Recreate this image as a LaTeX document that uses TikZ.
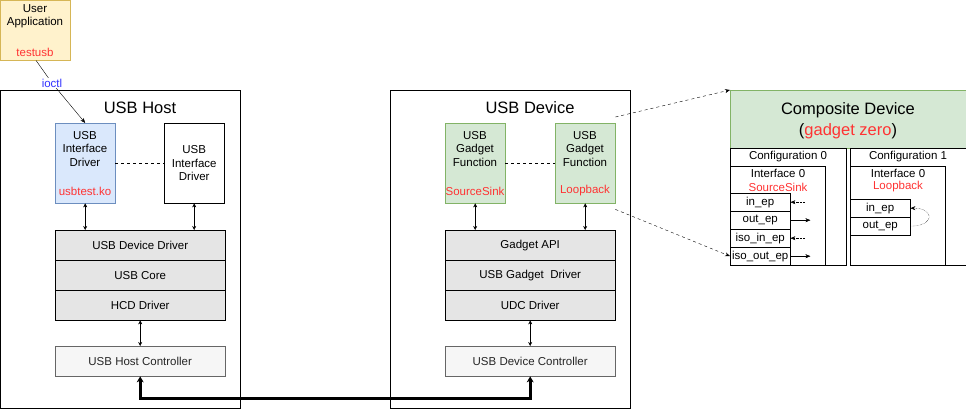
\documentclass[tikz,border=0pt]{standalone}
\usepackage{fontspec}
\setmainfont{Liberation Sans}
\usetikzlibrary{arrows.meta}
\definecolor{rd}{HTML}{FF3333}
\definecolor{bl}{HTML}{3333FF}
\definecolor{yf}{HTML}{FFF2CC}\definecolor{yd}{HTML}{D6B656}
\definecolor{bf}{HTML}{DAE8FC}\definecolor{bd}{HTML}{6C8EBF}
\definecolor{gf}{HTML}{D5E8D4}\definecolor{gd}{HTML}{82B366}
\begin{document}
\begin{tikzpicture}[x=1pt,y=-1pt,
  t/.style={font=\fontsize{11.5}{13.5}\selectfont,align=center},
  big/.style={font=\fontsize{16.5}{19}\selectfont},
  bx/.style={draw,anchor=north west,inner sep=0},
  stk/.style={bx,fill=gray!20,minimum width=170,minimum height=30,t},
  ctl/.style={bx,fill=gray!7,draw=gray!80!black,minimum width=170,minimum height=30,t,text=gray!30!black},
  dar/.style={{Stealth[length=4pt,width=4pt]}-{Stealth[length=4pt,width=4pt]}},
  ar/.style={-{Stealth[length=5pt,width=4pt]}},
  ep/.style={bx,minimum width=60,minimum height=18,t}]
\useasboundingbox (0,0) rectangle (966,412);
% user app
\node[bx,fill=yf,draw=yd,minimum width=70,minimum height=60] (ua) at (0,0) {};
\node[t] at (35,16) {User\\Application};
\node[t,text=rd] at (35,52) {testusb};
% host
\node[bx,minimum width=240,minimum height=318] (host) at (0,90) {};
\node[big] at (140,108) {USB Host};
\node[bx,fill=bf,draw=bd,minimum width=60,minimum height=80] (hid) at (55,123) {};
\node[t] at (85,149) {USB\\Interface\\Driver};
\node[t,text=rd] at (85,191) {usbtest.ko};
\node[bx,minimum width=60,minimum height=80,t] (hid2) at (164,123) {USB\\Interface\\Driver};
\draw[dashed] (hid.east) -- (hid2.west);
\node[stk] (h1) at (55,230) {USB Device Driver};
\node[stk] (h2) at (55,260) {USB Core};
\node[stk] (h3) at (55,290) {HCD Driver};
\node[ctl] (hc) at (55,346) {USB Host Controller};
\draw[dar] (hid.south) -- (hid.south |- h1.north);
\draw[dar] (hid2.south) -- (hid2.south |- h1.north);
\draw[dar] (h3.south) -- (hc.north);
\coordinate (io) at (52,83);
\draw (ua.south -| 36,60) -- (io);
\draw[ar] (io) -- (hid.north);
\node[t,text=bl,fill=white,inner sep=1] at (io) {ioctl};
% device
\node[bx,minimum width=240,minimum height=318] (dev) at (390,90) {};
\node[big] at (530,108) {USB Device};
\node[bx,fill=gf,draw=gd,minimum width=60,minimum height=80] (g1) at (445,123) {};
\node[t] at (475,149) {USB\\Gadget\\Function};
\node[t,text=rd] at (475,191) {SourceSink};
\node[bx,fill=gf,draw=gd,minimum width=60,minimum height=80] (g2) at (555,123) {};
\node[t] at (585,149) {USB\\Gadget\\Function};
\node[t,text=rd] at (585,191) {Loopback};
\draw[dashed] (g1.east) -- (g2.west);
\node[stk] (d1) at (445,230) {Gadget API};
\node[stk] (d2) at (445,260) {USB Gadget\ \ Driver};
\node[stk] (d3) at (445,290) {UDC Driver};
\node[ctl] (dc) at (445,346) {USB Device Controller};
\draw[dar] (g1.south) -- (g1.south |- d1.north);
\draw[dar] (g2.south) -- (g2.south |- d1.north);
\draw[dar] (d3.south) -- (dc.north);
\draw[line width=3pt,{Stealth[length=6pt,width=7pt]}-{Stealth[length=6pt,width=7pt]}] (hc.south) -- ++(0,22) -| (dc.south);
% composite
\node[bx,fill=gf,draw=gd,minimum width=236,minimum height=58] (cd) at (730,90) {};
\node[big] at (848,110) {Composite Device};
\node[big] at (848,131) {(\textcolor{rd}{gadget zero})};
\draw[dashed,ar] (g2.north east) ++(0,-6) -- (cd.north west);
\node[bx,minimum width=116,minimum height=117] (c0) at (730,148) {};
\node[t] at (788,157) {Configuration 0};
\node[bx,minimum width=95,minimum height=99] (i0) at (730,166) {};
\node[t] at (778,173) {Interface 0};
\node[t,text=rd] at (778,187) {SourceSink};
\node[ep] (e1) at (730,193) {in\_ep};
\node[ep] (e2) at (730,211) {out\_ep};
\node[ep] (e3) at (730,229) {iso\_in\_ep};
\node[ep] (e4) at (730,247) {iso\_out\_ep};
\draw[dashed,ar] (g2.south east) ++(0,6) -- (e4.west);
\draw[densely dotted,ar] ([xshift=14]e1.east) -- (e1.east);
\draw[ar] (e2.east) -- ++(20,0);
\draw[densely dotted,ar] ([xshift=14]e3.east) -- (e3.east);
\draw[ar] (e4.east) -- ++(20,0);
\node[bx,minimum width=116,minimum height=117] (c1) at (850,148) {};
\node[t] at (908,157) {Configuration 1};
\node[bx,minimum width=95,minimum height=99] (i1) at (850,166) {};
\node[t] at (898,173) {Interface 0};
\node[t,text=rd] at (898,187) {Loopback};
\node[ep] (f1) at (850,199) {in\_ep};
\node[ep] (f2) at (850,217) {out\_ep};
\draw[densely dotted,ar] (f2.east) .. controls (935,226) and (935,208) .. (f1.east);
\end{tikzpicture}
\end{document}
